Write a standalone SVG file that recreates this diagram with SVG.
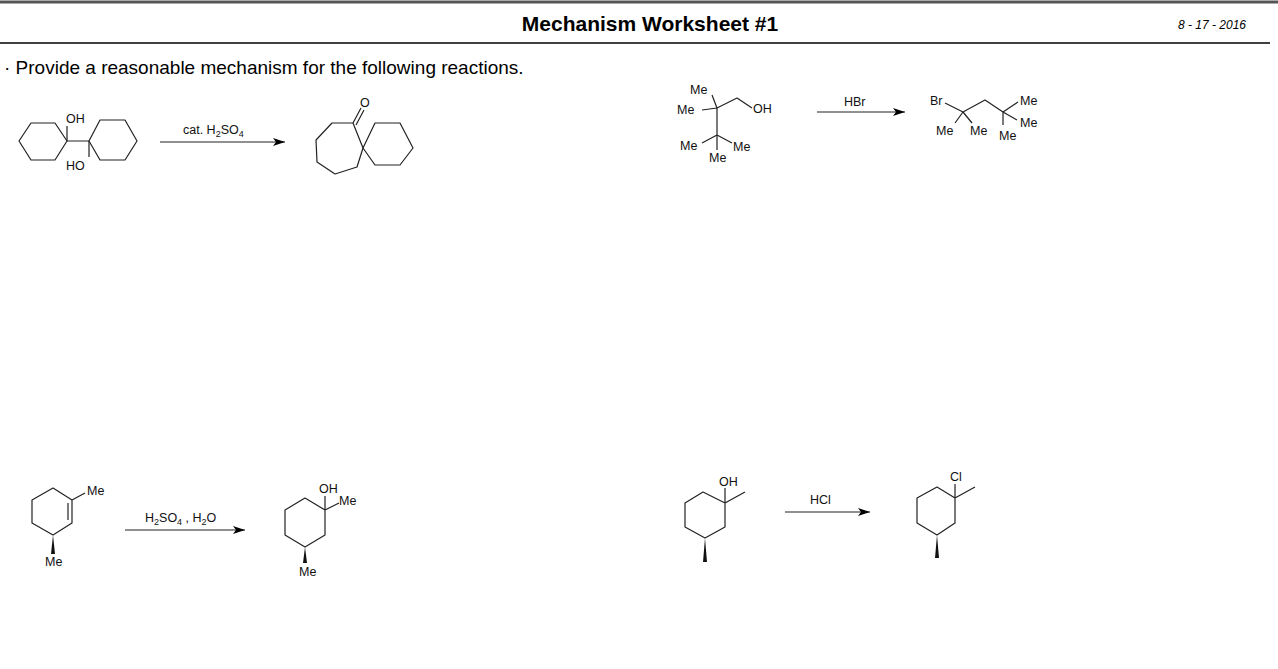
<svg xmlns="http://www.w3.org/2000/svg" width="1278" height="669" viewBox="0 0 1278 669">
<defs>
<marker id="ah" viewBox="0 0 12 8" refX="12" refY="4" markerWidth="12" markerHeight="8" markerUnits="userSpaceOnUse" orient="auto"><path d="M0,0 L12,4 L0,8 L3,4 Z" fill="#000"/></marker>
</defs>
<style>
.b{fill:none;stroke:#222;stroke-width:1.2;stroke-linejoin:round}
.t{font-family:"Liberation Sans",Arial,sans-serif;font-size:12.5px;fill:#111}
.s{font-size:9px}
.a{stroke:#222;stroke-width:1.2;fill:none;marker-end:url(#ah)}
.w{fill:#111}
</style>
<rect width="1278" height="669" fill="#fff"/>
<line x1="0" y1="2" x2="1278" y2="2" stroke="#555" stroke-width="3"/>
<text x="650" y="31" text-anchor="middle" font-family="Liberation Sans,Arial,sans-serif" font-size="21" font-weight="bold">Mechanism Worksheet #1</text>
<text x="1212" y="29" text-anchor="middle" font-family="Liberation Sans,Arial,sans-serif" font-size="12" font-style="italic">8 - 17 - 2016</text>
<line x1="0" y1="43" x2="1270" y2="43" stroke="#000" stroke-width="1.5"/>
<text x="4" y="74" font-family="Liberation Sans,Arial,sans-serif" font-size="19">· Provide a reasonable mechanism for the following reactions.</text>

<g id="r1-reactant">
<path class="b" d="M31,123 L55,123 L67,141 L55,160 L31,160 L19,141 Z"/>
<path class="b" d="M89,141 L100,120 L125,120 L137,141 L125,160 L100,160 Z"/>
<path class="b" d="M67,141 L89,141 M67,141 L67,126 M89,141 L89,157"/>
<text class="t" x="66" y="123">OH</text>
<text class="t" x="66" y="170">HO</text>
</g>
<g id="r1-product">
<path class="b" d="M363,148 L375,123 L400,123 L413,148 L400,165 L375,165 Z"/>
<path class="b" d="M363,148 L353,123 L332,123 L316,140 L317,162 L335,174 L357,167 Z"/>
<path class="b" d="M353,123 L361,108 M356,125 L364,110"/>
<text class="t" x="360" y="107">O</text>
</g>
<g id="r2-reactant">
<path class="b" d="M717,108 L712,95 M702,110 L717,108 L737,98 L752,108 M717,108 L717,135 M702,143 L717,135 L732,143 M717,135 L717,150"/>
<text class="t" x="690" y="94">Me</text>
<text class="t" x="677" y="114">Me</text>
<text class="t" x="753" y="113">OH</text>
<text class="t" x="680" y="150">Me</text>
<text class="t" x="733" y="151">Me</text>
<text class="t" x="709" y="162">Me</text>
</g>
<g id="r2-product">
<path class="b" d="M945,103 L963,112 L985,100 L1003,112 L1018,102 M1003,112 L1017,120 M1003,112 L1003,125 M963,112 L955,123 M963,112 L972,123"/>
<text class="t" x="930" y="105">Br</text>
<text class="t" x="1020" y="105">Me</text>
<text class="t" x="1020" y="127">Me</text>
<text class="t" x="999" y="140">Me</text>
<text class="t" x="936" y="135">Me</text>
<text class="t" x="970" y="135">Me</text>
</g>
<g id="r3-reactant">
<path class="b" d="M32,500 L53,488 L72,500 L72,523 L53,535 L32,523 Z M68,503 L68,520 M72,500 L85,493"/>
<path class="w" d="M53,535 L51,554 L55,554 Z"/>
<text class="t" x="87" y="495">Me</text>
<text class="t" x="45" y="566">Me</text>
</g>
<g id="r3-product">
<path class="b" d="M305,498 L325,510 L325,535 L305,547 L285,535 L285,510 Z M325,510 L325,496 M325,510 L339,503"/>
<path class="w" d="M305,547 L303,563 L307,563 Z"/>
<text class="t" x="319" y="493">OH</text>
<text class="t" x="339" y="505">Me</text>
<text class="t" x="299" y="576">Me</text>
</g>
<g id="r4-reactant">
<path class="b" d="M703,492 L725,503 L725,527 L705,538 L685,527 L685,503 Z M725,503 L725,488 M725,503 L745,492"/>
<path class="w" d="M705,538 L703,562 L707,562 Z"/>
<text class="t" x="719" y="486">OH</text>
</g>
<g id="r4-product">
<path class="b" d="M937,487 L955,498 L955,523 L937,535 L917,523 L917,498 Z M955,498 L955,484 M955,498 L975,487"/>
<path class="w" d="M937,535 L935,558 L939,558 Z"/>
<text class="t" x="950" y="481">Cl</text>
</g>
<g id="connectors">
<line class="a" x1="160" y1="142" x2="285" y2="142"/>
<line class="a" x1="817" y1="112" x2="905" y2="112"/>
<line class="a" x1="125" y1="530" x2="245" y2="530"/>
<line class="a" x1="785" y1="512" x2="870" y2="512"/>
<text class="t" x="183" y="134">cat. H<tspan class="s" dy="3">2</tspan><tspan dy="-3">SO</tspan><tspan class="s" dy="3">4</tspan></text>
<text class="t" x="844" y="106">HBr</text>
<text class="t" x="145" y="522">H<tspan class="s" dy="3">2</tspan><tspan dy="-3">SO</tspan><tspan class="s" dy="3">4</tspan><tspan dy="-3"> , H</tspan><tspan class="s" dy="3">2</tspan><tspan dy="-3">O</tspan></text>
<text class="t" x="810" y="504">HCl</text>
</g>
</svg>
